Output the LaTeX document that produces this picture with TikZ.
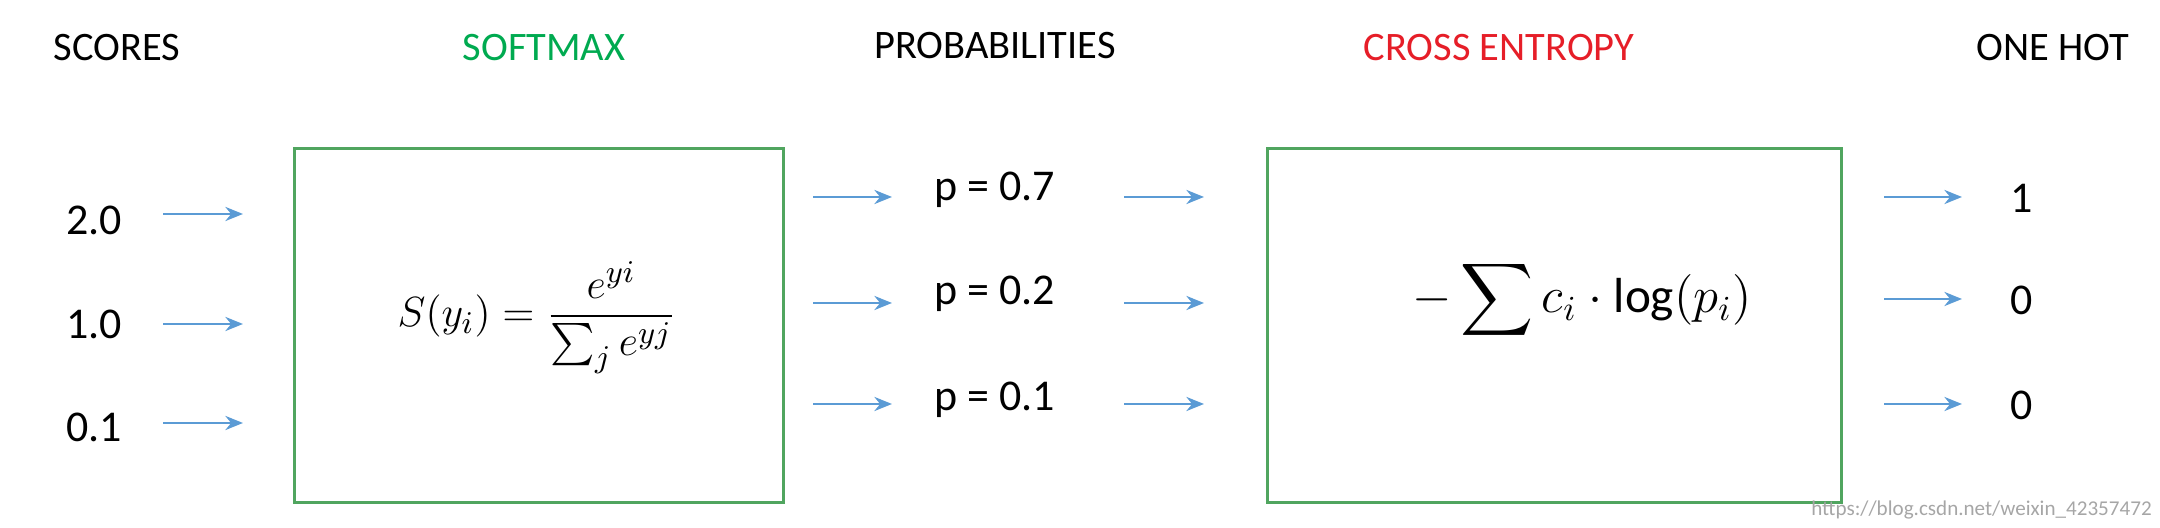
\documentclass[tikz,border=0pt]{standalone}
\usepackage{amsmath}
\usepackage{fontspec}
\setmainfont{Carlito}
\usetikzlibrary{arrows.meta}
\definecolor{sgreen}{RGB}{0,170,80}
\definecolor{bgreen}{RGB}{80,165,95}
\definecolor{cred}{RGB}{230,30,40}
\definecolor{ablue}{RGB}{91,155,213}
\begin{document}
\begin{tikzpicture}[x=0.01cm,y=-0.01cm,
  lbl/.style={font=\fontsize{11.5}{13}\selectfont},
  val/.style={font=\fontsize{12.5}{14}\selectfont},
  fbox/.style={draw=bgreen,line width=0.9pt,inner sep=0},
  arr/.style={draw=ablue,line width=0.8pt,-{Stealth[length=5pt,width=4pt]}}]
\useasboundingbox (0,0) rectangle (2160,528);
\node[lbl] (t1) at (117,48) {SCORES};
\node[lbl,text=sgreen] (t2) at (544,48) {SOFTMAX};
\node[lbl] (t3) at (995,46) {PROBABILITIES};
\node[lbl,text=cred] (t4) at (1499,48) {CROSS ENTROPY};
\node[lbl] (t5) at (2053,48) {ONE HOT};
\node[val] (s1) at (94,220) {2.0};
\node[val] (s2) at (94,324) {1.0};
\node[val] (s3) at (94,427) {0.1};
\coordinate (a1s) at (163,214); \coordinate (a1e) at (243,214);
\coordinate (a2s) at (163,324); \coordinate (a2e) at (243,324);
\coordinate (a3s) at (163,423); \coordinate (a3e) at (243,423);
\draw[arr] (a1s)--(a1e); \draw[arr] (a2s)--(a2e); \draw[arr] (a3s)--(a3e);
\node[fbox,minimum width=4.88cm,minimum height=3.53cm] (b1) at (539,325.5) {};
\node[font=\fontsize{12.5}{14}\selectfont] (f1) at (537,318) {$S(y_i)=\dfrac{e^{yi}}{\sum_j e^{yj}}$};
\foreach \y [count=\i] in {197,303,404}{
  \coordinate (c\i s) at (813,\y); \coordinate (c\i e) at (892,\y);
  \draw[arr] (c\i s)--(c\i e);
  \coordinate (d\i s) at (1124,\y); \coordinate (d\i e) at (1204,\y);
  \draw[arr] (d\i s)--(d\i e);}
\node[val] (p1) at (995,190) {p = 0.7};
\node[val] (p2) at (995,294) {p = 0.2};
\node[val] (p3) at (995,400) {p = 0.1};
\node[fbox,minimum width=5.73cm,minimum height=3.53cm] (b2) at (1554.5,325.5) {};
\node[font=\fontsize{14}{16}\selectfont] (f2) at (1582,300) {$\displaystyle-\sum c_i\cdot\mathrm{log}(p_i)$};
\foreach \y [count=\i] in {197,299,404}{
  \coordinate (e\i s) at (1884,\y); \coordinate (e\i e) at (1962,\y);
  \draw[arr] (e\i s)--(e\i e);}
\node[val] (o1) at (2022,198) {1};
\node[val] (o2) at (2022,300) {0};
\node[val] (o3) at (2022,405) {0};
\node[font=\fontsize{6}{7}\selectfont,text=black!35,anchor=east,inner sep=1pt] (w) at (2156,510) {https://blog.csdn.net/weixin\_42357472};
\end{tikzpicture}
\end{document}
